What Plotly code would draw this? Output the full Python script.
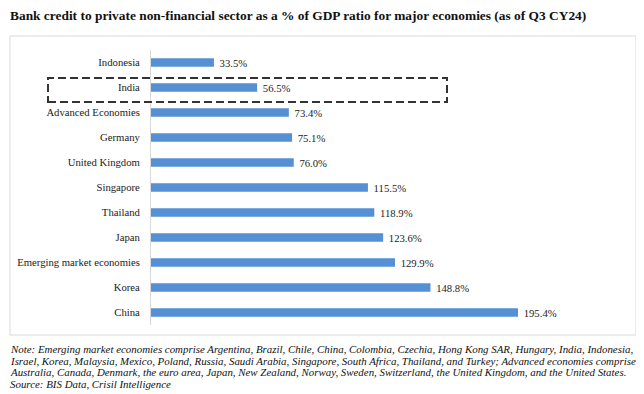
import plotly.graph_objects as go

categories = ["Indonesia", "India", "Advanced Economies", "Germany", "United Kingdom",
              "Singapore", "Thailand", "Japan", "Emerging market economies", "Korea", "China"]
values = [33.5, 56.5, 73.4, 75.1, 76.0, 115.5, 118.9, 123.6, 129.9, 148.8, 195.4]
labels = [f"\u00a0{v:.1f}%" for v in values]

title = "Bank credit to private non-financial sector as a % of GDP ratio for major economies (as of Q3 CY24)"
note_lines = [
    "Note: Emerging market economies comprise Argentina, Brazil, Chile, China, Colombia, Czechia, Hong Kong SAR, Hungary, India, Indonesia,",
    "Israel, Korea, Malaysia, Mexico, Poland, Russia, Saudi Arabia, Singapore, South Africa, Thailand, and Turkey; Advanced economies comprise",
    "Australia, Canada, Denmark, the euro area, Japan, New Zealand, Norway, Sweden, Switzerland, the United Kingdom, and the United States.",
    "Source: BIS Data, Crisil Intelligence",
]

OFF = 8  # page body margin
W, H = 644 - OFF, 394 - OFF
# plot area in screen pixels: x 151..630, y 50..325
SX0, SX1, SY0, SY1 = 151, 630, 50, 325
L, R, T, B = SX0 - OFF, W - (SX1 - OFF), SY0 - OFF, H - (SY1 - OFF)
pw, ph = SX1 - SX0, SY1 - SY0
px_per_unit = (518 - 151) / 195.4
xmax = pw / px_per_unit

def px_x(p):
    return (p - SX0) / pw

def px_y(p):
    return (SY1 - p) / ph

serif = "Liberation Serif, Times New Roman, serif"

fig = go.Figure(go.Bar(
    x=values, y=categories, orientation="h",
    marker=dict(color="#5590D4", line=dict(width=0)),
    width=0.34,
    text=labels, textposition="outside", cliponaxis=False, constraintext="none",
    textfont=dict(family=serif, size=10.7, color="#222222"),
    hoverinfo="skip",
))

annotations = [
    dict(text=f"<b>{title}</b>", xref="paper", yref="paper",
         x=px_x(8), y=px_y(15), xanchor="left", yanchor="middle", showarrow=False,
         font=dict(family=serif, size=13.4, color="#111111")),
]
note_y = [349, 360.5, 372, 383.5]
for line, yy in zip(note_lines, note_y):
    annotations.append(dict(text=f"<i>{line}</i>", xref="paper", yref="paper",
                            x=px_x(8), y=px_y(yy), xanchor="left", yanchor="middle",
                            showarrow=False, align="left",
                            font=dict(family=serif, size=10.9, color="#111111")))

fig.update_layout(
    width=W, height=H,
    margin=dict(l=L, r=R, t=T, b=B, autoexpand=False),
    paper_bgcolor="white", plot_bgcolor="white",
    showlegend=False,
    xaxis=dict(range=[0, xmax], visible=False, fixedrange=True, automargin=False),
    yaxis=dict(autorange="reversed", showline=True, linecolor="#D9D9D9", linewidth=1,
               ticks="", showgrid=False, tickfont=dict(family=serif, size=10.7, color="#222222"),
               ticklabelstandoff=8, fixedrange=True, automargin=False),
    shapes=[
        dict(type="rect", xref="paper", yref="paper",
             x0=px_x(10), x1=px_x(636), y0=px_y(335), y1=px_y(36),
             line=dict(color="#D9D9D9", width=1), fillcolor="rgba(0,0,0,0)", layer="below"),
        dict(type="rect", xref="paper", yref="paper",
             x0=px_x(48), x1=px_x(447), y0=px_y(102), y1=px_y(78),
             line=dict(color="#333333", width=2, dash="8px,4px"), fillcolor="rgba(0,0,0,0)"),
    ],
    annotations=annotations,
)

fig.write_html("out.html")
